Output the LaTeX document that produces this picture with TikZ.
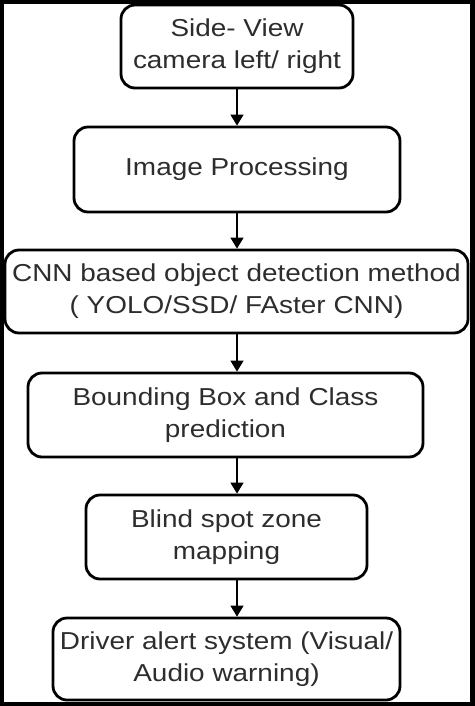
\documentclass[tikz,border=0pt]{standalone}
\usepackage{fontspec}
\setmainfont[FakeStretch=1.14]{Liberation Sans}
\usetikzlibrary{arrows.meta}
\definecolor{txtgray}{RGB}{45,45,45}

\tikzset{
  stepbox/.style={draw, line width=2.8pt, rounded corners=14pt, align=center,
    text=txtgray, font=\fontsize{24.5}{32}\selectfont, inner sep=0pt},
  flow/.style={line width=1.4pt, -{Triangle[width=13pt,length=11pt]}}
}

\begin{document}
\begin{tikzpicture}[x=1pt, y=-1pt]
                \useasboundingbox (0,0) rectangle (474,706);
                % outer frame
                \draw[line width=8pt] (0,0) rectangle (474,706);
                
                % steps
                \node[stepbox, minimum width=232pt, minimum height=83pt] (cam) at (237,46.5) {Side- View\\camera left/ right};
                \node[stepbox, minimum width=326pt, minimum height=85pt] (imgproc) at (237,169.5) {Image Processing};
                \node[stepbox, minimum width=463pt, minimum height=83pt] (cnn) at (236.5,291.5) {CNN based object detection method\\( YOLO/SSD/ FAster CNN)};
                \node[stepbox, minimum width=395pt, minimum height=84pt] (bbox) at (225.5,415) {Bounding Box and Class\\prediction};
                \node[stepbox, minimum width=281pt, minimum height=84pt] (zone) at (226.5,537) {Blind spot zone\\mapping};
                \node[stepbox, minimum width=347pt, minimum height=82pt] (alert) at (226.5,659) {Driver alert system (Visual/\\Audio warning)};
                
                % arrows
                \coordinate (ax) at (237,0);
                \draw[flow] (cam.south -| ax) -- (imgproc.north -| ax);
                \draw[flow] (imgproc.south -| ax) -- (cnn.north -| ax);
                \draw[flow] (cnn.south -| ax) -- (bbox.north -| ax);
                \draw[flow] (bbox.south -| ax) -- (zone.north -| ax);
                \draw[flow] (zone.south -| ax) -- (alert.north -| ax);
\end{tikzpicture}
\end{document}
